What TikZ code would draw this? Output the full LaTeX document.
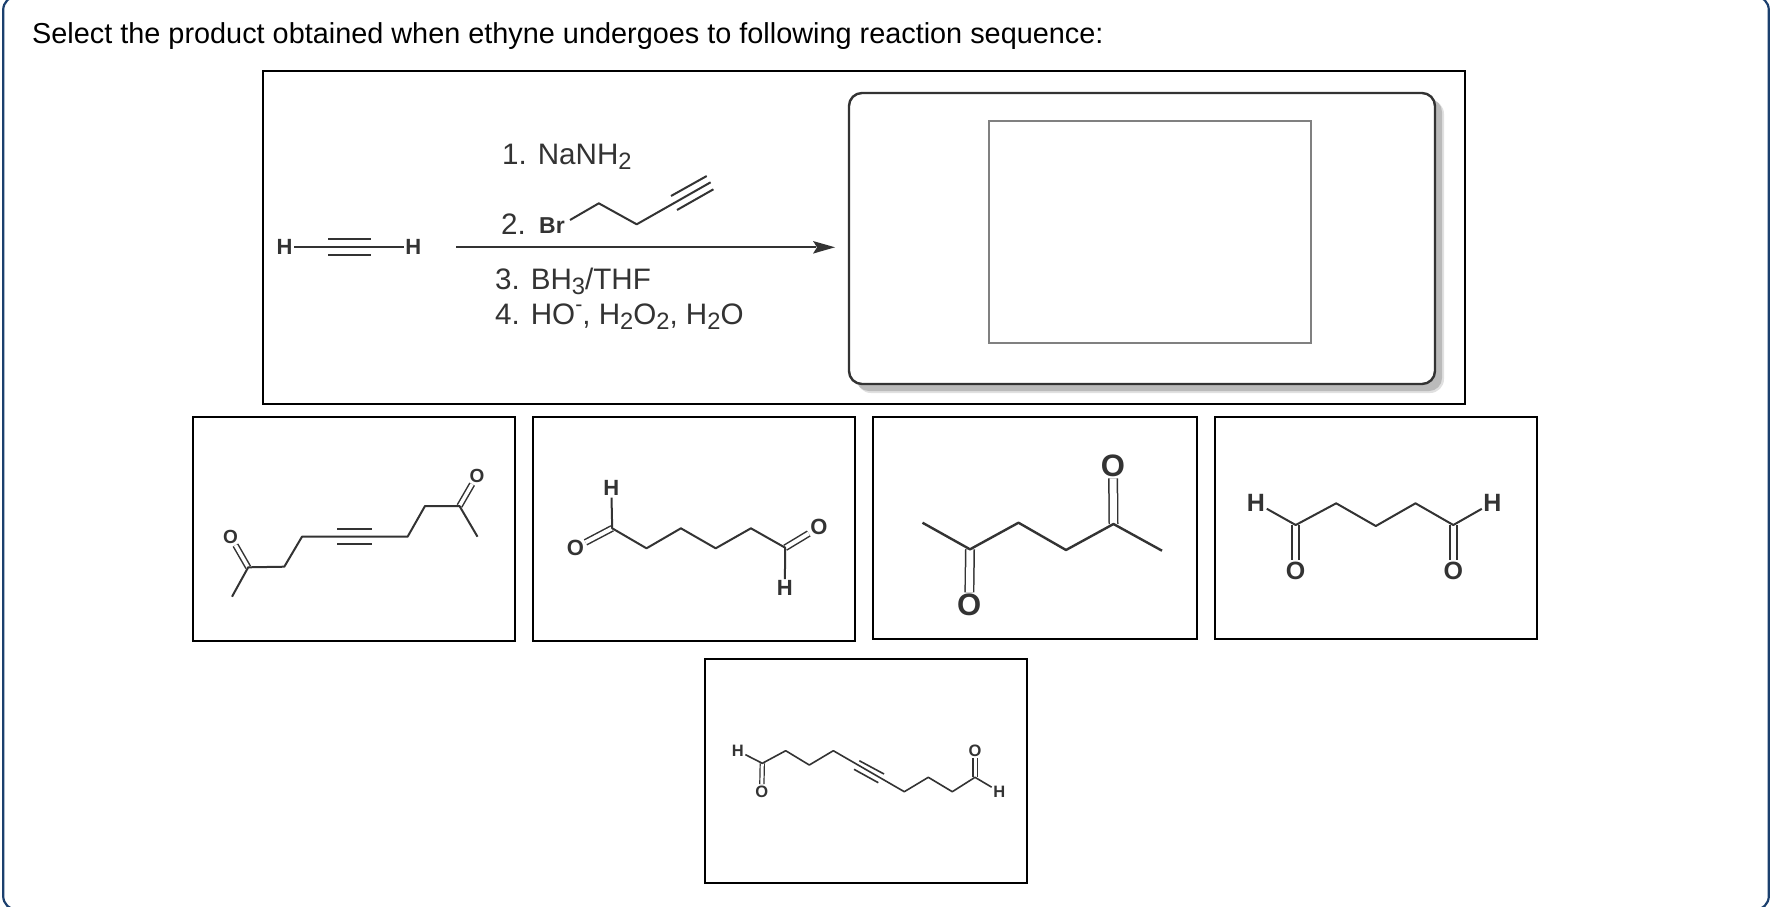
\documentclass[tikz,border=0pt]{standalone}
\usepackage{graphicx}
\usepackage{fontspec}
\setmainfont{Liberation Sans}
\newcommand{\chemsub}[1]{\smash{\raisebox{-0.2em}{\scalebox{.8}{#1}}}}
\newcommand{\chemsup}[1]{\smash{\raisebox{.42em}{\scalebox{.72}{#1}}}}
\definecolor{navyframe}{HTML}{1B3F6E}
\definecolor{ink}{HTML}{333333}
\tikzset{
  frame/.style={draw=black,line width=2pt,fill=white},
  bond/.style={draw=ink,line width=2pt,line join=round},
  dbl/.style={draw=ink,line width=1.5pt,double=white,double distance=#1},
  reagent/.style={anchor=base west,inner sep=0pt,text=ink,font=\fontsize{29.6}{31}\selectfont},
  atom/.style={inner sep=1.5pt,text=ink,font=\fontsize{#1}{#1}\selectfont\bfseries}
}
\begin{document}
\begin{tikzpicture}[x=1pt,y=-1pt]
\useasboundingbox (0,0) rectangle (1770,906);
\fill[white] (0,0) rectangle (1770,906);
\begin{scope}
\clip (0,0) rectangle (1770,906);
\draw[navyframe,line width=2.2pt,rounded corners=14pt] (3.2,-4) rectangle (1768.8,910);
\end{scope}
\node[anchor=base west,inner sep=0pt,text=black,font=\fontsize{28.85}{30}\selectfont] (header) at (32,43) {Select the product obtained when ethyne undergoes to following reaction sequence:};

% frames
\draw[frame] (263,71) rectangle (1465,404);
\draw[frame] (193,417) rectangle (515,641);
\draw[frame] (533,417) rectangle (855,641);
\draw[frame] (873,417) rectangle (1197,639);
\draw[frame] (1215,417) rectangle (1537,639);
\draw[frame] (705,659) rectangle (1027,883);

% answer card
\fill[black!12,rounded corners=14pt] (857,100) rectangle (1444,393);
\fill[black!27,rounded corners=13pt] (856,99) rectangle (1442,391);
\draw[draw=ink,line width=2.4pt,fill=white,rounded corners=13pt] (849,93) rectangle (1435,384);
\draw[draw=black!50,line width=1.5pt] (989,121) rectangle (1311,343);

% reactant
\node[atom=22] (rH1) at (284.5,247.3) {H};
\node[atom=22] (rH2) at (413.3,247.3) {H};
\draw[bond] (rH1) -- (rH2);
\coordinate (rA1) at (328,239); \coordinate (rA2) at (370.6,239);
\coordinate (rB1) at (328,255); \coordinate (rB2) at (370.6,255);
\draw[bond] (rA1) -- (rA2);
\draw[bond] (rB1) -- (rB2);

% arrow
\coordinate (arS) at (456.4,247.3);
\coordinate (arE) at (816,247.3);
\coordinate (arT) at (835,247.3);
\coordinate (arU) at (813,241);
\coordinate (arN) at (817,247.3);
\coordinate (arL) at (813,253.6);
\draw[bond] (arS) -- (arE);
\fill[ink] (arT) -- (arU) -- (arN) -- (arL) -- cycle;

% reagents
\node[reagent] (r1) at (502,164) {1. NaNH\chemsub{2}};
\node[reagent] (r2) at (501,234) {2.};
\node[anchor=base west,inner sep=0pt,text=ink,font=\fontsize{23}{24}\selectfont\bfseries] (rBr) at (539,233) {Br};
\node[reagent] (r3) at (495,289) {3. BH\chemsub{3}/THF};
\node[reagent] (r4) at (495,324) {4. HO\chemsup{-}, H\chemsub{2}O\chemsub{2}, H\chemsub{2}O};
\coordinate (b0) at (570,220);
\coordinate (b1) at (598.8,203.3);
\coordinate (b2) at (636.7,224.3);
\coordinate (b3) at (710.6,182.3);
\coordinate (b4) at (671,196); \coordinate (b5) at (706.7,176);
\coordinate (b6) at (677,210); \coordinate (b7) at (713.4,189.3);
\draw[bond] (b0) -- (b1) -- (b2) -- (b3);
\draw[bond] (b4) -- (b5);
\draw[bond] (b6) -- (b7);

% option 1
\node[atom=19] (aO1) at (230.6,536.7) {O};
\node[atom=19] (aO2) at (477,475.7) {O};
\coordinate (a0) at (232,596.7);
\coordinate (a1) at (248.2,567.3);
\coordinate (a2) at (284.3,566.7);
\coordinate (a3) at (302,536.7);
\coordinate (a4) at (407.6,536.7);
\coordinate (a5) at (425,506);
\coordinate (a6) at (459.5,506);
\coordinate (a7) at (477.5,536.7);
\coordinate (aT1) at (337,529.3); \coordinate (aT2) at (372,529.3);
\coordinate (aT3) at (337,543.5); \coordinate (aT4) at (372,543.5);
\draw[dbl=3.5pt] (a1) -- (aO1);
\draw[dbl=3.5pt] (a6) -- (aO2);
\draw[bond] (a0) -- (a1) -- (a2) -- (a3) -- (a4) -- (a5) -- (a6) -- (a7);
\draw[bond] (aT1) -- (aT2);
\draw[bond] (aT3) -- (aT4);

% option 2
\node[atom=22] (cH1) at (611.3,488.3) {H};
\node[atom=22] (cO1) at (575.3,547.7) {O};
\node[atom=22] (cO2) at (819,527.3) {O};
\node[atom=22] (cH2) at (784.8,588.3) {H};
\coordinate (c1) at (612.2,528.3);
\coordinate (c2) at (646.5,548.3);
\coordinate (c3) at (680.9,528.3);
\coordinate (c4) at (715.7,548.3);
\coordinate (c5) at (750.9,528.3);
\coordinate (c6) at (785.2,547.7);
\draw[dbl=4pt] (c1) -- (cO1);
\draw[dbl=4pt] (c6) -- (cO2);
\draw[bond] (cH1) -- (c1) -- (c2) -- (c3) -- (c4) -- (c5) -- (c6) -- (cH2);

% option 3
\node[atom=31] (dO1) at (969.2,605) {O};
\node[atom=31] (dO2) at (1113,465.7) {O};
\coordinate (d0) at (922.5,522.7);
\coordinate (d1) at (970,549.3);
\coordinate (d2) at (1018.5,522.7);
\coordinate (d3) at (1066,550);
\coordinate (d4) at (1113.5,524);
\coordinate (d5) at (1162,550.7);
\draw[dbl=7pt] (d1) -- (dO1);
\draw[dbl=7pt] (d4) -- (dO2);
\draw[bond,line width=2.4pt] (d0) -- (d1) -- (d2) -- (d3) -- (d4) -- (d5);

% option 4
\node[atom=25] (eH1) at (1256,502.7) {H};
\node[atom=25] (eO1) at (1295.7,571) {O};
\node[atom=25] (eO2) at (1453.3,571) {O};
\node[atom=25] (eH2) at (1492.5,502.7) {H};
\coordinate (e1) at (1295.7,525);
\coordinate (e2) at (1336.2,503.3);
\coordinate (e3) at (1375.8,526);
\coordinate (e4) at (1415.5,503.3);
\coordinate (e5) at (1453.3,525);
\draw[dbl=5.5pt] (e1) -- (eO1);
\draw[dbl=5.5pt] (e5) -- (eO2);
\draw[bond] (eH1) -- (e1) -- (e2) -- (e3) -- (e4) -- (e5) -- (eH2);

% option 5
\node[atom=16.5] (fH1) at (737.7,750.7) {H};
\node[atom=16.5] (fO1) at (761.7,791.7) {O};
\node[atom=16.5] (fO2) at (975,750.7) {O};
\node[atom=16.5] (fH2) at (999.3,791.7) {H};
\coordinate (f1) at (762.3,763.3);
\coordinate (f2) at (785.7,750.7);
\coordinate (f3) at (809.3,765);
\coordinate (f4) at (833.3,750.7);
\coordinate (f5) at (904.3,791.7);
\coordinate (f6) at (928.3,777.3);
\coordinate (f7) at (952.3,791.7);
\coordinate (f8) at (975,777.3);
\coordinate (fT1) at (859.3,760.7); \coordinate (fT2) at (884,774);
\coordinate (fT3) at (854,769.3); \coordinate (fT4) at (878.3,782.7);
\draw[dbl=3pt,line width=1.2pt] (f1) -- (fO1);
\draw[dbl=3pt,line width=1.2pt] (f8) -- (fO2);
\draw[bond,line width=1.6pt] (fH1) -- (f1) -- (f2) -- (f3) -- (f4) -- (f5) -- (f6) -- (f7) -- (f8) -- (fH2);
\draw[bond,line width=1.6pt] (fT1) -- (fT2);
\draw[bond,line width=1.6pt] (fT3) -- (fT4);
\end{tikzpicture}
\end{document}
